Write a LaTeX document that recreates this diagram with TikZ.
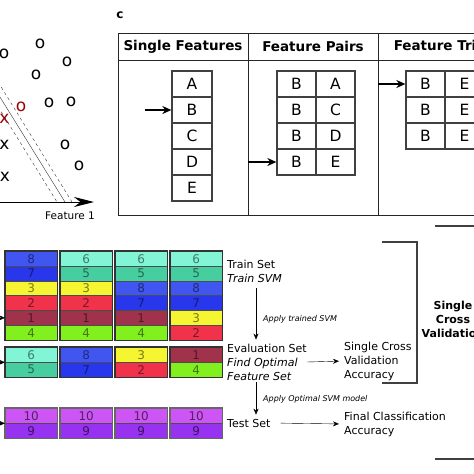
\documentclass[tikz,border=0pt]{standalone}
\usepackage{fontspec}
\setmainfont{DejaVu Sans}
\usetikzlibrary{arrows.meta}
\definecolor{n1}{RGB}{160,50,75}
\definecolor{n2}{RGB}{240,50,75}
\definecolor{n3}{RGB}{245,245,50}
\definecolor{n4}{RGB}{130,240,30}
\definecolor{n5}{RGB}{70,205,160}
\definecolor{n6}{RGB}{130,245,215}
\definecolor{n7}{RGB}{40,55,235}
\definecolor{n8}{RGB}{65,85,240}
\definecolor{n9}{RGB}{150,50,240}
\definecolor{n10}{RGB}{205,85,245}
\tikzset{line/.style={draw, thin, -{Stealth[length=6pt, width=5pt]}}}

\begin{document}
\begin{tikzpicture}[x=1pt, y=-1pt]
\tikzstyle{cell} = [rectangle, draw=black!70, line width=0.5pt, minimum width=52pt, minimum height=14.8pt, inner sep=0pt, anchor=north west, font=\fontsize{12}{12}\selectfont]
\tikzstyle{group} = [draw=black!80, line width=1.2pt]
\tikzstyle{tcell} = [rectangle, draw=black!75, line width=1.3pt, minimum width=39pt, minimum height=26pt, inner sep=0pt, font=\fontsize{15.5}{18}\selectfont]
\tikzstyle{tarrow} = [draw, line width=1.5pt, -{Stealth[length=9pt, width=8pt]}]
\tikzstyle{head} = [inner sep=0pt, font=\bfseries\fontsize{13.5}{15}\selectfont]
\tikzstyle{txt} = [anchor=west, align=left, inner sep=0pt, font=\fontsize{11}{14}\selectfont]
\tikzstyle{lab} = [right=7pt, inner sep=0pt, font=\itshape\fontsize{8}{10}\selectfont]
\tikzstyle{pt} = [inner sep=0pt, font=\fontsize{17}{17}\selectfont]

\clip (0,0) rectangle (474,474);

% feature space
\foreach \px/\py [count=\k] in {40/44, 4/54, 67/62, 36/75, 49/103, 71/102, 65/145, 79/166}
  \node[pt] (o\k) at (\px,\py) {o};
\node[pt, text=red!60!black] (ored) at (21,107) {o};
\node[pt, text=red!60!black] (xred) at (4.5,119) {x};
\node[pt] (x1) at (4.5,145) {x};
\node[pt] (x2) at (5,177) {x};
\draw[black!80, thin] (-5,89) -- (65,202);
\draw[black!80, thin, dashed] (-5,77) -- (72,202);
\draw[black!80, thin, dashed] (-5,101.6) -- (57,202);
\draw[line width=1pt, -{Stealth[length=20pt, width=10pt]}] (-5,202) -- (94,202);
\node[font=\fontsize{10.5}{12}\selectfont] (f1) at (70,216) {Feature 1};

% panel c
\node[inner sep=0pt, font=\bfseries\fontsize{12}{12}\selectfont] (lc) at (120,15) {c};
\draw[line width=0.9pt, black!85] (118,33) rectangle (520,215);
\draw[line width=0.9pt, black!85] (118,60) -- (520,60);
\foreach \xd in {248,378,508}
  \draw[line width=0.9pt, black!85] (\xd,33) -- (\xd,215);
\node[head] (h1) at (183,46.5) {Single Features};
\node[head] (h2) at (313,46.5) {Feature Pairs};
\node[head] (h3) at (454,46.5) {Feature Triplets};

\foreach \l [count=\i] in {A,B,C,D,E}
  \node[tcell, minimum width=40pt] (sf-\i) at (192,58+26*\i) {\l};
\foreach \r [count=\i] in {A,C,D,E} {
  \node[tcell] (fp-\i-1) at (296.5,58+26*\i) {B};
  \node[tcell] (fp-\i-2) at (335.5,58+26*\i) {\r};
}
\foreach \i in {1,2,3} {
  \node[tcell] (ft-\i-1) at (425.5,58+26*\i) {B};
  \node[tcell] (ft-\i-2) at (464.5,58+26*\i) {E};
}
\draw[tarrow] ([xshift=-26pt]sf-2.west) -- (sf-2.west);
\draw[tarrow] ([xshift=-28pt]fp-4-1.west) -- (fp-4-1.west);
\draw[tarrow] ([xshift=-27pt]ft-1-1.west) -- (ft-1-1.west);

% cross validation sets
\foreach \vals [count=\c] in {{8,7,3,2,1,4},{6,5,3,2,1,4},{6,5,8,7,1,4},{6,5,8,7,3,2}} {
  \pgfmathsetmacro\xc{5+55*(\c-1)}
  \foreach \v [count=\i] in \vals
    \node[cell, fill=n\v, text=n\v!50!black] (tr-\c-\i) at (\xc,{251+14.8*(\i-1)}) {\v};
  \draw[group] (tr-\c-1.north west) rectangle (tr-\c-6.south east);
}
\foreach \va/\vb [count=\c] in {6/5, 8/7, 3/2, 1/4} {
  \pgfmathsetmacro\xc{5+55*(\c-1)}
  \node[cell, fill=n\va, text=n\va!50!black] (ev-\c-1) at (\xc,347) {\va};
  \node[cell, fill=n\vb, text=n\vb!50!black] (ev-\c-2) at (\xc,362) {\vb};
  \draw[group] (ev-\c-1.north west) rectangle (ev-\c-2.south east);
  \node[cell, fill=n10, text=n10!40!black] (te-\c-1) at (\xc,408) {10};
  \node[cell, fill=n9, text=n9!40!black] (te-\c-2) at (\xc,423) {9};
  \draw[group, draw=black!60] (te-\c-1.north west) rectangle (te-\c-2.south east);
}
\draw[line] ([xshift=-12pt]tr-1-5.west) -- (tr-1-5.west);
\draw[line] ([xshift=-12pt]ev-1-1.south west) -- (ev-1-1.south west);
\draw[line] ([xshift=-12pt]te-1-1.south west) -- (te-1-1.south west);

\node[txt] (train) at (227,271) {Train Set\\\textit{Train SVM}};
\node[txt] (eval) at (227,362) {Evaluation Set\\\textit{Find Optimal}\\\textit{Feature Set}};
\node[txt] (test) at (227,423) {Test Set};
\node[txt] (sca) at (344,361) {Single Cross\\Validation\\Accuracy};
\node[txt] (fca) at (344,424) {Final Classification\\Accuracy};

\draw[line, shorten <=6pt, shorten >=4pt] ([xshift=29pt]train.south west) -- ([xshift=29pt]eval.north west) node[lab, pos=0.6] {Apply trained SVM};
\draw[line, shorten >=5pt] (eval.east) -- (sca.west);
\draw[line, shorten <=2pt, shorten >=4pt] ([xshift=29pt]eval.south west) -- ([xshift=29pt]test.north west) node[lab, pos=0.5] {Apply Optimal SVM model};
\draw[line, shorten <=10pt, shorten >=5pt] (test.east) -- (fca.west);

\draw[line width=1.2pt, black!75] (382,242) -| (417,383) -- (382,383);
\node[align=center, inner sep=0pt, font=\bfseries\fontsize{11}{14}\selectfont] (scv) at (453,319) {Single\\Cross\\Validation};
\draw[line width=1.2pt, black!75] (435,226) -- (480,226);
\draw[line width=1.2pt, black!75] (435,459) -- (480,459);

\end{tikzpicture}
\end{document}
